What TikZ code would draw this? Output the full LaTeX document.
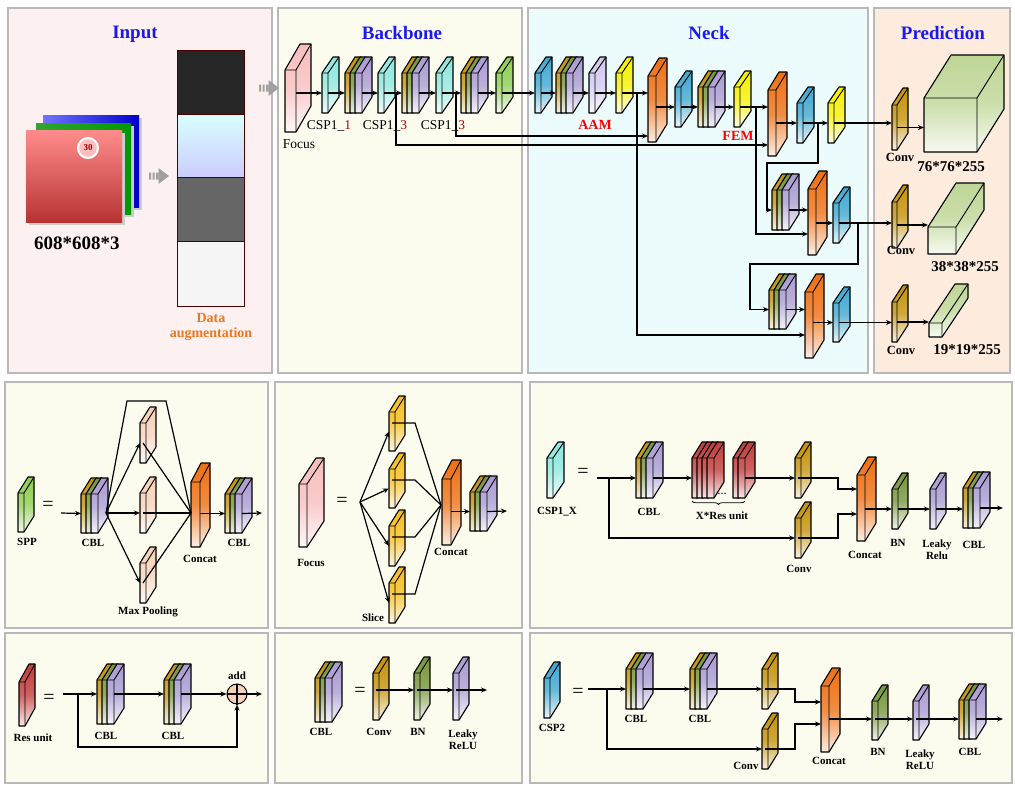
\documentclass[tikz,border=0pt]{standalone}
\usepackage{fontspec}
\setmainfont{Liberation Serif}
\usetikzlibrary{arrows.meta,calc,decorations.pathreplacing}
\definecolor{cbr}{RGB}{196,146,10}
\definecolor{cbg}{RGB}{118,150,60}
\definecolor{cbv}{RGB}{170,155,210}
\definecolor{ccy}{RGB}{140,232,222}
\definecolor{cgr}{RGB}{140,206,80}
\definecolor{cbl}{RGB}{64,168,208}
\definecolor{cye}{RGB}{245,240,0}
\definecolor{cor}{RGB}{238,112,20}
\definecolor{clv}{RGB}{208,200,240}
\definecolor{cpk}{RGB}{248,190,190}
\definecolor{cre}{RGB}{195,60,60}
\definecolor{cpe}{RGB}{246,210,185}
\definecolor{cgo}{RGB}{246,190,30}
\definecolor{ccu}{RGB}{190,214,150}
\definecolor{tblue}{RGB}{25,25,240}
\definecolor{dorange}{RGB}{235,120,30}
\definecolor{bgin}{RGB}{253,240,240}
\definecolor{bgbb}{RGB}{252,252,238}
\definecolor{bgne}{RGB}{236,252,252}
\definecolor{bgpr}{RGB}{253,236,222}
\tikzset{
 panel/.style={draw=gray!55,line width=2pt},
 arr/.style={-{Stealth[length=6pt,width=5pt]},line width=1.2pt},
 ln/.style={line width=1.2pt},
 box/.style={inner sep=0,outer sep=0},
 lb/.style={font=\fontsize{11}{12}\selectfont\bfseries,inner sep=1pt,align=center},
 lbt/.style={font=\fontsize{13.5}{15}\selectfont,inner sep=1pt},
 ttl/.style={font=\fontsize{19}{22}\selectfont\bfseries,text=tblue},
 eq/.style={font=\fontsize{20}{20}\selectfont},
}
% name x y w h dx dy color
\newcommand\slab[8]{%
 \shade[top color=#8,bottom color=#8!12!white,middle color=#8!80!white,draw=black,line width=1.1pt,line join=round]
  (#2,#3) -- ++(#6,-#7) -- ++(#4,0) -- ++(0,#5) -- ++(-#6,#7) -- ++(-#4,0) -- cycle;
 \draw[line width=0.9pt] (#2,#3) -- ++(#4,0) -- ++(#6,-#7) (#2+#4,#3) -- ++(0,#5);
 \node[box,minimum width=#4,minimum height=#5,anchor=north west] (#1) at (#2,#3) {};}
% name x y h
\newcommand\cblk[4]{%
 \slab{#1-a}{#2}{#3}{6}{#4}{10}{16}{cbr}%
 \slab{#1-b}{#2+5}{#3}{6}{#4}{10}{16}{cbg}%
 \slab{#1-c}{#2+10}{#3}{7}{#4}{10}{16}{cbv}%
 \node[box,minimum width=17,minimum height=#4,anchor=north west] (#1) at (#2,#3) {};}
\newcommand\grayarrow[2]{%
 \fill[gray!75] (#1,#2-3.5) rectangle ++(2,7) (#1+3.5,#2-3.5) rectangle ++(2,7) (#1+7,#2-3.5) rectangle ++(2.5,7);
 \fill[gray!75] (#1+9.5,#2-8) -- (#1+20,#2) -- (#1+9.5,#2+8) -- cycle;}
\begin{document}
\begin{tikzpicture}[x=1pt,y=-1pt]
\useasboundingbox (0,0) rectangle (1015,787);
\fill[white] (0,0) rectangle (1015,787);
% panels
\draw[panel,fill=bgin] (8,8) rectangle (272,373);
\draw[panel,fill=bgbb] (278,8) rectangle (522,373);
\draw[panel,fill=bgne] (528,8) rectangle (868,373);
\draw[panel,fill=bgpr] (874,8) rectangle (1010,373);
\draw[panel,fill=bgbb] (5,382) rectangle (268,628);
\draw[panel,fill=bgbb] (275,382) rectangle (522,628);
\draw[panel,fill=bgbb] (530,382) rectangle (1012,628);
\draw[panel,fill=bgbb] (5,633) rectangle (268,783);
\draw[panel,fill=bgbb] (275,633) rectangle (522,783);
\draw[panel,fill=bgbb] (530,633) rectangle (1012,783);
\node[ttl] (tin) at (135,34) {Input};
\node[ttl] (tbb) at (402,33) {Backbone};
\node[ttl] (tne) at (709,33) {Neck};
\node[ttl] (tpr) at (943,33) {Prediction};
% ---------- input ----------
\fill[gray!40] (46,118) rectangle (142,210);
\shade[left color=blue!55,right color=blue!80!black] (43,115) rectangle (139,207);
\fill[gray!40] (39,126) rectangle (134,217);
\shade[left color=green!55!black!80,right color=green!60!black] (36,123) rectangle (131,214);
\fill[gray!40] (29,133) rectangle (125,225);
\shade[top color=red!45,bottom color=red!65!black!80] (26,130) rectangle (122,222);
\draw[white,line width=2pt,fill=red!25] (88,148) circle (10);
\node[font=\fontsize{9}{9}\selectfont\bfseries,text=red!60!black] (s30) at (88,148) {30};
\node[font=\fontsize{19}{21}\selectfont\bfseries] (dim) at (77,243) {608*608*3};
\grayarrow{149}{176}
\draw[draw=red!30!black,line width=0.8pt,fill=black!85] (177,50) rectangle (244,114);
\draw[draw=red!30!black,line width=0.8pt,top color=cyan!15,bottom color=blue!20!white] (177,114) rectangle (244,177);
\draw[draw=red!30!black,line width=0.8pt,fill=black!60] (177,177) rectangle (244,241);
\draw[draw=red!30!black,line width=0.8pt,fill=gray!8] (177,241) rectangle (244,306);
\node[font=\fontsize{14}{16}\selectfont\bfseries,text=dorange,align=center] (da) at (211,327) {Data\\[-1pt]augmentation};
\grayarrow{259}{88}
% ---------- backbone ----------
\slab{foc}{285}{70}{11}{62}{15}{26}{cpk}
\slab{c1}{322}{73}{6}{40}{11}{16}{ccy}
\cblk{b1}{345}{73}{40}
\slab{c2}{378}{73}{6}{40}{11}{16}{ccy}
\cblk{b2}{402}{73}{40}
\slab{c3}{436}{73}{6}{40}{11}{16}{ccy}
\cblk{b3}{461}{73}{40}
\slab{spp}{496}{73}{6}{40}{11}{16}{cgr}
\draw[arr] (foc.east|-c1.west) -- (c1.west);
\draw[arr] (c1.east) -- (b1.west);
\draw[arr] (b1.east) -- (c2.west);
\draw[arr] (c2.east) -- (b2.west);
\draw[arr] (b2.east) -- (c3.west);
\draw[arr] (c3.east) -- (b3.west);
\draw[arr] (b3.east) -- (spp.west);
\node[lbt] (lfoc) at (299,144) {Focus};
\node[lbt] (lc1) at (329,126) {CSP1\_{\color{red!70!black}1}};
\node[lbt] (lc2) at (385,126) {CSP1\_{\color{red!70!black}3}};
\node[lbt] (lc3) at (443,126) {CSP1\_{\color{red!70!black}3}};
% ---------- neck ----------
\slab{n0}{535}{73}{6}{40}{11}{16}{cbl}
\cblk{n00}{556}{73}{40}
\slab{lv}{589}{73}{6}{40}{11}{16}{clv}
\slab{y1}{616}{73}{6}{40}{11}{16}{cye}
\draw[arr] (spp.east) -- (n0.west);
\draw[arr] (n0.east) -- (n00.west);
\draw[arr] (n00.east) -- (lv.west);
\draw[arr] (lv.east) -- (y1.west);
\slab{o1}{648}{76}{8}{66}{11}{18}{cor}
\slab{n1}{675}{87}{6}{40}{11}{16}{cbl}
\cblk{n2}{698}{87}{40}
\slab{n3}{734}{87}{6}{40}{11}{16}{cye}
\slab{o2}{768}{90}{8}{66}{11}{18}{cor}
\slab{n4}{797}{103}{6}{40}{11}{16}{cbl}
\slab{n5}{828}{103}{6}{40}{11}{16}{cye}
\draw[arr] (y1.east) -- (y1.east-|o1.west);
\draw[arr] (o1.east|-n1.west) -- (n1.west);
\draw[arr] (n1.east) -- (n2.west);
\draw[arr] (n2.east) -- (n3.west);
\draw[arr] (n3.east) -- (n3.east-|o2.west);
\draw[arr] (o2.east|-n4.west) -- (n4.west);
\draw[arr] (n4.east) -- (n5.west);
\node[font=\fontsize{14}{16}\selectfont\bfseries,text=red] (aam) at (595,125) {AAM};
\node[font=\fontsize{14}{16}\selectfont\bfseries,text=red] (fem) at (738,136) {FEM};
% row 2
\cblk{r2c}{772}{190}{40}
\slab{r2o}{808}{189}{8}{66}{11}{18}{cor}
\slab{r2b}{833}{203}{6}{40}{11}{16}{cbl}
\draw[arr] (r2c.east) -- (r2c.east-|r2o.west);
\draw[arr] (r2o.east|-r2b.west) -- (r2b.west);
% row 3
\cblk{r3c}{769}{290}{39}
\slab{r3o}{805}{292}{8}{66}{11}{18}{cor}
\slab{r3b}{833}{303}{6}{39}{11}{16}{cbl}
\draw[arr] (r3c.east) -- (r3c.east-|r3o.west);
\draw[arr] (r3o.east|-r3b.west) -- (r3b.west);
% skip connections
\coordinate (s1) at (456,93); \coordinate (s1b) at (456,136);
\draw[arr] (s1) -- (s1b) -- (s1b-|o1.west);
\coordinate (s2) at (396,93); \coordinate (s2b) at (396,145);
\draw[arr] (s2) -- (s2b) -- (s2b-|o2.west);
\coordinate (k1) at (637,93); \coordinate (k1b) at (637,335);
\draw[arr] (k1) -- (k1b) -- (k1b-|r3o.west);
\coordinate (k2) at (756,107); \coordinate (k2b) at (756,234);
\draw[arr] (k2) -- (k2b) -- (k2b-|r2o.west);
\coordinate (k3) at (818,123); \coordinate (k3b) at (767,163);
\draw[arr] (k3) |- (k3b) |- (r2c.west);
\coordinate (k4) at (858,223); \coordinate (k4b) at (750,264);
\draw[arr] (k4) |- (k4b) |- (r3c.west);
% ---------- prediction ----------
\slab{cv1}{892}{105}{5}{45}{11}{17}{cbr}
\slab{cv2}{892}{202}{5}{46}{11}{17}{cbr}
\slab{cv3}{892}{302}{5}{40}{11}{17}{cbr}
\slab{cu1}{924}{98}{53}{54}{27}{43}{ccu}
\slab{cu2}{928}{227}{28}{27}{28}{44}{ccu}
\slab{cu3}{929}{323}{13}{14}{26}{39}{ccu}
\draw[arr] (n5.east) -- (n5.east-|cv1.west);
\draw[arr] (r2b.east) -- (r2b.east-|cv2.west);
\draw[arr] (r3b.east) -- (r3b.east-|cv3.west);
\draw[arr] (cv1.east) -- (cv1.east-|cu1.west);
\draw[arr] (cv2.east) -- (cv2.east-|cu2.west);
\draw[arr] (cv3.east) -- (cv3.east-|cu3.west);
\node[lb,font=\fontsize{12.5}{14}\selectfont\bfseries] (lcv1) at (900,157) {Conv};
\node[lb,font=\fontsize{12.5}{14}\selectfont\bfseries] (lcv2) at (901,250) {Conv};
\node[lb,font=\fontsize{12.5}{14}\selectfont\bfseries] (lcv3) at (901,350) {Conv};
\node[font=\fontsize{15}{17}\selectfont\bfseries] (d1) at (951,167) {76*76*255};
\node[font=\fontsize{15}{17}\selectfont\bfseries] (d2) at (965,267) {38*38*255};
\node[font=\fontsize{15}{17}\selectfont\bfseries] (d3) at (967,350) {19*19*255};
% ---------- SPP panel ----------
\slab{sp}{18}{493}{6}{39}{10}{16}{cgr}
\node[lb] (lsp) at (27,542) {SPP};
\node[eq] (e1) at (48,506) {=};
\cblk{sc}{81}{494}{39}
\coordinate (si) at (61,513);
\draw[arr] (si) -- (sc.west);
\node[lb] (lsc) at (93,543) {CBL};
\slab{mp1}{140}{423}{6}{40}{10}{16}{cpe}
\slab{mp2}{140}{493}{6}{40}{10}{16}{cpe}
\slab{mp3}{140}{563}{6}{40}{10}{16}{cpe}
\node[lb] (lmp) at (148,612) {Max Pooling};
\slab{so}{191}{482}{9}{65}{10}{19}{cor}
\node[lb] (lso) at (200,559) {Concat};
\cblk{sc2}{225}{494}{39}
\node[lb] (lsc2) at (239,543) {CBL};
\coordinate (sx) at (106,513);
\draw[arr] (sx) -- (mp1.west);
\draw[arr] (sx) -- (mp2.west);
\draw[arr] (sx) -- (mp3.west);
\coordinate (sin) at (191,513);
\draw[ln] (mp1.center) -- (sin);
\draw[ln] (mp2.center) -- (sin);
\draw[ln] (mp3.center) -- (sin);
\coordinate (st1) at (127,401); \coordinate (st2) at (166,401);
\draw[ln] (sx) -- (st1) -- (st2) -- (sin);
\draw[arr] (so.east|-sc2.west) -- (sc2.west);
\coordinate (sout) at (262,513);
\draw[arr] (sc2.east) -- (sout);
% ---------- Focus panel ----------
\slab{fo}{299}{484}{8}{63}{17}{26}{cpk}
\node[lb] (lfo) at (311,563) {Focus};
\node[eq] (e2) at (342,502) {=};
\coordinate (fx) at (360,502);
\slab{sl1}{389}{412}{6}{39}{10}{16}{cgo}
\slab{sl2}{389}{469}{6}{39}{10}{16}{cgo}
\slab{sl3}{389}{526}{6}{40}{10}{16}{cgo}
\slab{sl4}{389}{583}{6}{40}{10}{16}{cgo}
\node[lb] (lsl) at (373,618) {Slice};
\slab{fc}{442}{479}{9}{66}{10}{19}{cor}
\node[lb] (lfc) at (451,552) {Concat};
\cblk{fb}{470}{492}{39}
\draw[arr] (fx) -- (sl1.west);
\draw[arr] (fx) -- (sl2.west);
\draw[arr] (fx) -- (sl3.west);
\draw[arr] (fx) -- (sl4.west);
\coordinate (fin) at (441,505);
\coordinate (f1) at (415,423); \coordinate (f2) at (415,480);
\coordinate (f3) at (415,537); \coordinate (f4) at (415,594);
\draw[ln] (sl1.center|-f1) -- (f1) -- (fin);
\draw[ln] (sl2.center|-f2) -- (f2) -- (fin);
\draw[ln] (sl3.center|-f3) -- (f3) -- (fin);
\draw[ln] (sl4.center|-f4) -- (f4) -- (fin);
\draw[arr] (fc.east|-fb.west) -- (fb.west);
\coordinate (fout) at (507,511);
\draw[arr] (fb.east) -- (fout);
% ---------- CSP1_X panel ----------
\slab{cx}{547}{458}{6}{40}{11}{16}{ccy}
\node[lb] (lcx) at (557,512) {CSP1\_X};
\node[eq] (e3) at (583,473) {=};
\coordinate (xi) at (597,478); \coordinate (xb) at (609,478);
\cblk{xc}{636}{458}{40}
\node[lb] (lxc) at (649,512) {CBL};
\slab{xr1}{692}{458}{6}{40}{10}{16}{cre}
\slab{xr2}{697}{458}{6}{40}{10}{16}{cre}
\slab{xr3}{702}{458}{6}{40}{10}{16}{cre}
\slab{xr4}{707}{458}{7}{40}{10}{16}{cre}
\slab{xr5}{733}{458}{6}{40}{10}{16}{cre}
\slab{xr6}{738}{458}{7}{40}{10}{16}{cre}
\node[font=\fontsize{9}{9}\selectfont\bfseries] (dots) at (722,494) {\ldots};
\draw[decorate,decoration={brace,amplitude=3.5pt,mirror},line width=0.8pt] (692,501) -- (745,501);
\node[lb] (lxr) at (722,516) {X*Res unit};
\slab{xv1}{795}{458}{6}{40}{10}{16}{cbr}
\slab{xv2}{795}{518}{6}{40}{10}{16}{cbr}
\node[lb] (lxv) at (799,569) {Conv};
\slab{xo}{857}{475}{8}{66}{11}{18}{cor}
\node[lb] (lxo) at (865,555) {Concat};
\slab{xbn}{892}{489}{6}{40}{10}{16}{cbg}
\node[lb] (lxbn) at (898,543) {BN};
\slab{xlk}{930}{489}{6}{40}{10}{16}{cbv}
\node[lb] (lxlk) at (937,550) {Leaky\\Relu};
\cblk{xcb}{963}{488}{40}
\node[lb] (lxcb) at (974,545) {CBL};
\draw[arr] (xi) -- (xc.west);
\draw[arr] (xb) |- (xv2.west);
\draw[arr] (xc.east) -- (xr1.west);
\draw[arr] (xr6.east) -- (xv1.west);
\coordinate (xm1) at (838,489); \coordinate (xm2) at (838,514);
\draw[arr] (xv1.center) -| (xm1) -- (xm1-|xo.west);
\draw[arr] (xv2.center) -| (xm2) -- (xm2-|xo.west);
\draw[arr] (xo.east|-xbn.west) -- (xbn.west);
\draw[arr] (xbn.east) -- (xlk.west);
\draw[arr] (xlk.east) -- (xlk.east-|xcb.west);
\coordinate (xout) at (1003,508);
\draw[arr] (xcb.east) -- (xout);
% ---------- Res unit panel ----------
\slab{ru}{19}{682}{6}{44}{10}{18}{cre}
\node[lb] (lru) at (33,738) {Res unit};
\node[eq] (e4) at (49,699) {=};
\coordinate (ri) at (63,694); \coordinate (rb) at (78,694);
\cblk{rc1}{97}{680}{44}
\cblk{rc2}{164}{680}{44}
\node[lb] (lrc1) at (106,736) {CBL};
\node[lb] (lrc2) at (173,736) {CBL};
\node[circle,draw=black,line width=1pt,fill=cpe,minimum size=20,inner sep=0] (add) at (237,694) {};
\draw[line width=1.6pt] (add.north) -- (add.south) (add.west) -- (add.east);
\node[lb] (ladd) at (237,676) {add};
\draw[arr] (ri) -- (ri-|rc1.west);
\draw[arr] (rc1.east|-ri) -- (ri-|rc2.west);
\draw[arr] (rc2.east|-ri) -- (add.west);
\coordinate (rl) at (78,747);
\draw[arr] (rb) -- (rl) -| (add.south);
\coordinate (rout) at (262,694);
\draw[arr] (add.east) -- (rout);
% ---------- CBL panel ----------
\cblk{cc}{315}{678}{44}
\node[lb] (lcc) at (321,732) {CBL};
\node[eq] (e5) at (360,692) {=};
\slab{ccv}{373}{673}{6}{47}{10}{16}{cbr}
\slab{cbn}{414}{673}{6}{47}{10}{16}{cbg}
\slab{clk}{453}{673}{6}{47}{10}{16}{cbv}
\node[lb] (lccv) at (379,732) {Conv};
\node[lb] (lcbn) at (418,732) {BN};
\node[lb] (lclk) at (463,740) {Leaky\\ReLU};
\coordinate (cy) at (0,690);
\draw[arr] (ccv.center|-cy) -- (cbn.west|-cy);
\draw[arr] (cbn.center|-cy) -- (clk.west|-cy);
\coordinate (cout) at (487,690);
\draw[arr] (clk.center|-cy) -- (cout);
% ---------- CSP2 panel ----------
\slab{p0}{544}{678}{6}{40}{10}{16}{cbl}
\node[lb] (lp0) at (552,728) {CSP2};
\node[eq] (e6) at (578,693) {=};
\coordinate (pi) at (588,689); \coordinate (pb) at (607,689);
\cblk{pc1}{626}{669}{40}
\cblk{pc2}{690}{669}{40}
\node[lb] (lpc1) at (636,719) {CBL};
\node[lb] (lpc2) at (700,719) {CBL};
\slab{pv1}{762}{669}{6}{40}{10}{16}{cbr}
\slab{pv2}{762}{729}{6}{40}{10}{16}{cbr}
\node[lb] (lpv) at (746,766) {Conv};
\slab{po}{821}{686}{8}{66}{11}{18}{cor}
\node[lb] (lpo) at (829,761) {Concat};
\slab{pbn}{872}{701}{6}{39}{10}{16}{cbg}
\node[lb] (lpbn) at (878,752) {BN};
\slab{plk}{913}{701}{6}{39}{10}{16}{cbv}
\node[lb] (lplk) at (920,760) {Leaky\\ReLU};
\cblk{pcb}{959}{700}{39}
\node[lb] (lpcb) at (970,752) {CBL};
\draw[arr] (pi) -- (pi-|pc1.west);
\draw[arr] (pb) |- (pv2.west);
\draw[arr] (pc1.east|-pi) -- (pi-|pc2.west);
\draw[arr] (pc2.east|-pi) -- (pi-|pv1.west);
\coordinate (pm1) at (795,702); \coordinate (pm2) at (795,724);
\draw[arr] (pv1.center) -| (pm1) -- (pm1-|po.west);
\draw[arr] (pv2.center) -| (pm2) -- (pm2-|po.west);
\coordinate (py) at (0,719);
\draw[arr] (po.east|-py) -- (pbn.west|-py);
\draw[arr] (pbn.center|-py) -- (plk.west|-py);
\draw[arr] (plk.center|-py) -- (pcb.west|-py);
\coordinate (pout) at (1003,719);
\draw[arr] (pcb.east|-py) -- (pout);
\end{tikzpicture}
\end{document}
